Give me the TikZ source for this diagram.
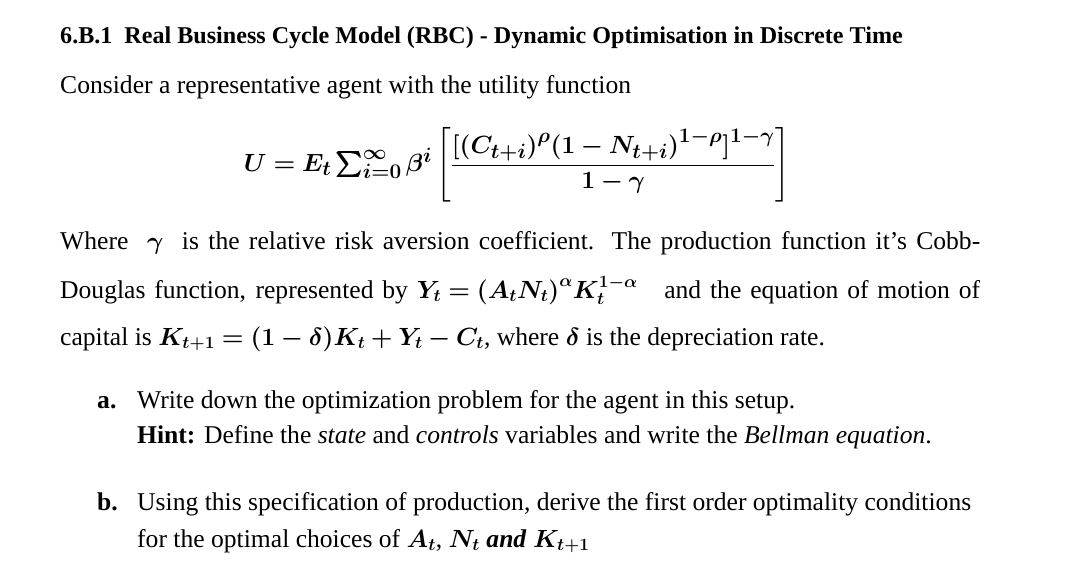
\documentclass[tikz,border=0pt]{standalone}
\usepackage{amsmath,bm}
\usepackage{fontspec}
\setmainfont{Liberation Serif}
\begin{document}
\begin{tikzpicture}[x=1pt,y=-1pt,txt/.style={anchor=base west,inner sep=0pt,font=\fontsize{25.6}{29}\selectfont}]
\useasboundingbox (0,0) rectangle (1070,577);
\node[txt,font=\fontsize{24.1}{27}\selectfont\bfseries] (t) at (60,44) {6.B.1\ \ Real Business Cycle Model (RBC) - Dynamic Optimisation in Discrete Time};
\node[txt] (l1) at (60,94) {Consider a representative agent with the utility function};
\node[inner sep=0pt,font=\fontsize{29.5}{32}\selectfont] (eq) at (517,165) {$\bm{U = E_t \textstyle\sum_{i=0}^{\infty} \beta^i} \left[\dfrac{\bm{[(C_{t+i})^{\rho}(1-N_{t+i})^{1-\rho}]^{1-\gamma}}}{\bm{1-\gamma}}\right]$};
\node[txt] (l2) at (60,250) {\hbox to 920pt{Where\ \ \mbox{$\bm{\gamma}$}\ \ is the relative risk aversion coefficient. The production function it's Cobb-}};
\node[txt] (l3) at (60,298) {\hbox to 920pt{Douglas function, represented by\ \mbox{$\bm{Y_t = (A_tN_t)^{\alpha}K_t^{1-\alpha}}$}\ \ \ and the equation of motion of}};
\node[txt] (l4) at (60,345) {capital is\ \mbox{$\bm{K_{t+1} = (1-\delta)K_t + Y_t - C_t}$},\ where \mbox{$\bm{\delta}$} is the depreciation rate.};
\node[txt,font=\fontsize{25.6}{29}\selectfont\bfseries] (a) at (97,408) {a.};
\node[txt] (a1) at (137,408) {Write down the optimization problem for the agent in this setup.};
\node[txt] (a2) at (137,443) {\textbf{Hint:} Define the \textit{state} and \textit{controls} variables and write the \textit{Bellman equation}.};
\node[txt,font=\fontsize{25.6}{29}\selectfont\bfseries] (b) at (97,510) {b.};
\node[txt] (b1) at (137,510) {Using this specification of production, derive the first order optimality conditions};
\node[txt] (b2) at (137,547) {for the optimal choices of \mbox{$\bm{A_t}$}, \mbox{$\bm{N_t}$} \textbf{\textit{and}} \mbox{$\bm{K_{t+1}}$}};
\end{tikzpicture}
\end{document}
